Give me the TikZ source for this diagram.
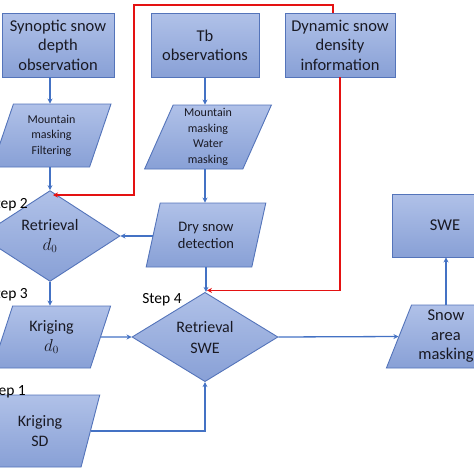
\documentclass[tikz,border=0pt]{standalone}
\usepackage{fontspec}
\setmainfont{Carlito}
\usetikzlibrary{shapes.geometric,arrows.meta}

\definecolor{boxtop}{RGB}{176,193,232}
\definecolor{boxbot}{RGB}{136,160,214}
\definecolor{boxline}{RGB}{84,116,186}
\definecolor{flowblue}{RGB}{68,114,196}
\definecolor{flowred}{RGB}{228,18,18}
\definecolor{inktext}{RGB}{25,25,35}

\begin{document}
\begin{tikzpicture}[x=1pt, y=-1pt, >={Stealth[length=5pt,width=5pt]},
    blockfill/.style={top color=boxtop, bottom color=boxbot, draw=boxline, line width=0.9pt, text=inktext, align=center, inner sep=0pt},
    bigtxt/.style={font=\fontsize{16.5}{19.5}\selectfont},
    smalltxt/.style={font=\fontsize{12}{15.5}\selectfont},
    rectbox/.style={blockfill, rectangle, minimum height=64pt},
    slantbox/.style={blockfill, trapezium, trapezium stretches=true, trapezium left angle=#1, trapezium right angle=180-#1},
    decision/.style={blockfill, diamond},
    arr/.style={->, draw=flowblue, line width=1.3pt},
    redarr/.style={->, draw=flowred, line width=1.6pt},
    steplbl/.style={font=\fontsize{15.5}{17}\selectfont, text=black, inner sep=0pt}]
    \useasboundingbox (0,0) rectangle (474,474);
    \clip (0,0) rectangle (474,474);

    % inputs
    \node[rectbox, bigtxt, minimum width=112pt] (synop) at (58,45) {Synoptic snow\\depth\\observation};
    \node[rectbox, bigtxt, minimum width=108pt] (tbobs) at (205,45.5) {Tb\\observations};
    \node[rectbox, bigtxt, minimum width=110pt] (dyn) at (340,45) {Dynamic snow\\density\\information};

    % processing
    \node[slantbox=72, smalltxt, minimum width=119pt, minimum height=63pt] (mmf) at (51.5,135.5) {Mountain\\masking\\Filtering};
    \node[slantbox=71, smalltxt, minimum width=127pt, minimum height=64pt] (mmw) at (208,137) {Mountain\\masking\\Water\\masking};
    \node[slantbox=72, font=\fontsize{14.5}{17}\selectfont, minimum width=120pt, minimum height=64pt] (dry) at (206,235) {Dry snow\\detection};
    \node[decision, font=\fontsize{16}{20}\selectfont, minimum width=140pt, minimum height=76pt] (ret0) at (50,236) {Retrieval\\$d_0$};
    \node[slantbox=71, font=\fontsize{16}{20}\selectfont, minimum width=119pt, minimum height=62pt] (krig0) at (51.5,337) {Kriging\\$d_0$};
    \node[decision, font=\fontsize{16}{21}\selectfont, minimum width=146pt, minimum height=77pt] (retswe) at (205,337) {Retrieval\\SWE};
    \node[slantbox=69, bigtxt, minimum width=120pt, minimum height=63pt] (snow) at (446,336.5) {Snow\\area\\masking};
    \node[rectbox, bigtxt, minimum width=106pt, minimum height=63pt] (swe) at (445,225.5) {SWE};
    \node[slantbox=72, font=\fontsize{16}{20}\selectfont, minimum width=120pt, minimum height=72pt] (krigsd) at (40,431) {Kriging\\SD};

    % step labels
    \node[steplbl, anchor=east] (step2) at (28,205) {Step 2};
    \node[steplbl, anchor=east] (step3) at (28,295) {Step 3};
    \node[steplbl] (step4) at (162,300) {Step 4};
    \node[steplbl, anchor=east] (step1) at (26,392) {Step 1};

    % flow
    \draw[arr] (synop.south -| ret0.north) -- (mmf.north -| ret0.north);
    \draw[arr] (mmf.south -| ret0.north) -- (ret0.north);
    \draw[arr] (tbobs.south) -- (tbobs.south |- mmw.north);
    \draw[arr] (mmw.south -| tbobs.south) -- (tbobs.south |- dry.north);
    \draw[arr] (dry.west |- ret0.east) -- (ret0.east);
    \draw[arr] (dry.south) -- (dry.south |- retswe.north);
    \draw[arr] (ret0.south) -- (ret0.south |- krig0.north);
    \draw[arr] (krig0.east) -- (retswe.west);
    \draw[arr] (retswe.east) -- (snow.west);
    \draw[arr] (snow.north) -- (snow.north |- swe.south);
    \draw[arr] (krigsd.east) -| (retswe.south);

    % density feed
    \coordinate (redtop) at (134,5);
    \coordinate (tipzero) at (53,195);
    \draw[redarr] ([xshift=-7pt]dyn.north) |- (redtop) |- (tipzero);
    \draw[redarr] (dyn.south) |- ([xshift=2pt,yshift=1.5pt]retswe.north);
\end{tikzpicture}
\end{document}
